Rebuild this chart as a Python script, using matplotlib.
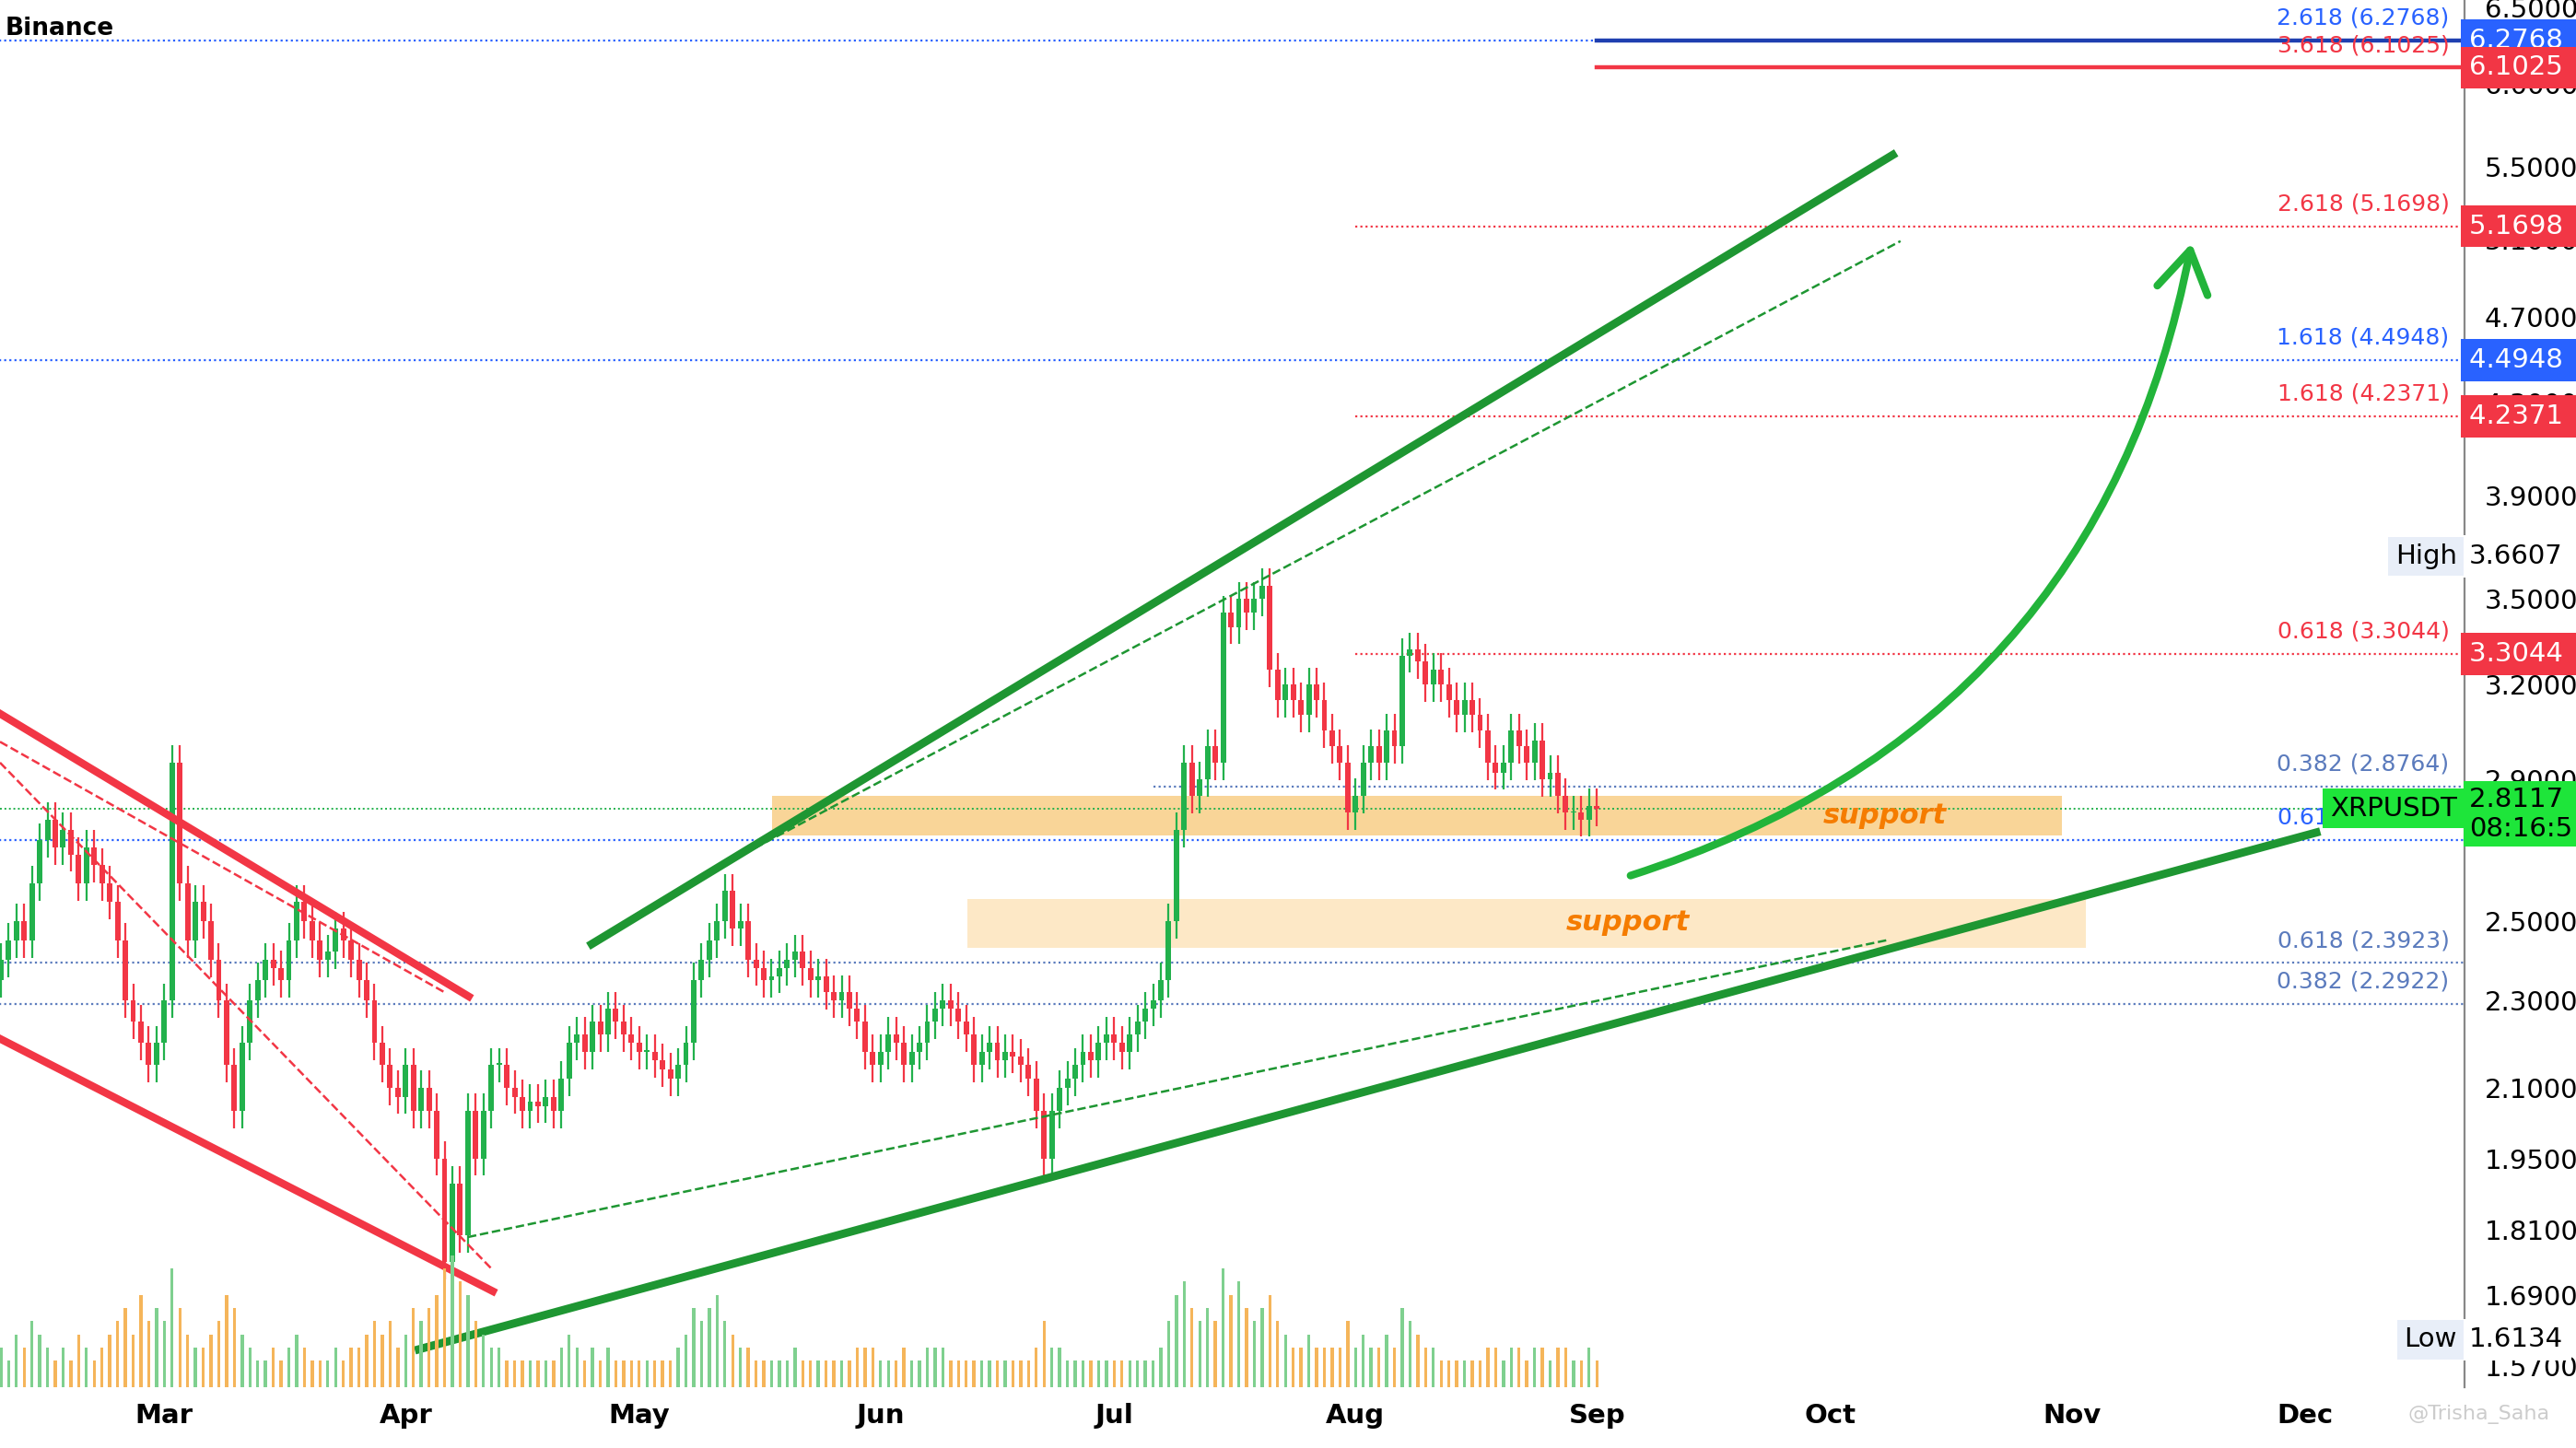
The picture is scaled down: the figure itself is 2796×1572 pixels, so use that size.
import matplotlib
matplotlib.use("Agg")
import matplotlib.pyplot as plt
from matplotlib.patches import FancyArrowPatch, Rectangle
from matplotlib.ticker import FixedLocator, NullLocator
import numpy as np

# day 0 = Mar 1; first candle = Feb 7 (day -22)
start_day = -22
closes = [
 2.35,2.40,2.45,2.50,2.45,2.60,2.72,
 2.78,2.70,2.75,2.68,2.60,2.70,2.65,
 2.60,2.55,2.45,2.30,2.25,2.20,2.15,
 2.20,2.30,2.95,2.60,2.45,2.55,2.50,
 2.40,2.30,2.15,2.05,2.20,2.30,2.35,
 2.40,2.38,2.35,2.45,2.55,2.50,2.45,
 2.40,2.42,2.48,2.45,2.40,2.35,2.30,
 2.20,2.15,2.10,2.08,2.15,2.05,2.10,
 2.05,1.95,1.75,1.90,1.80,2.05,1.95,
 2.05,2.15,2.15,2.10,2.08,2.05,2.07,
 2.06,2.08,2.05,2.12,2.20,2.22,2.18,
 2.25,2.22,2.28,2.25,2.22,2.20,2.18,
 2.18,2.16,2.14,2.12,2.15,2.20,2.35,
 2.40,2.45,2.50,2.58,2.48,2.50,2.40,
 2.38,2.35,2.36,2.38,2.40,2.42,2.38,
 2.35,2.36,2.32,2.30,2.32,2.28,2.25,
 2.18,2.15,2.18,2.22,2.20,2.15,2.18,
 2.20,2.25,2.28,2.30,2.28,2.25,2.22,
 2.15,2.18,2.20,2.16,2.18,2.17,2.15,
 2.12,2.05,1.95,2.05,2.10,2.12,2.15,
 2.18,2.16,2.20,2.22,2.20,2.18,2.22,
 2.25,2.28,2.30,2.35,2.50,2.75,2.95,
 2.85,2.90,3.00,2.95,3.45,3.40,3.50,
 3.45,3.50,3.55,3.25,3.15,3.20,3.15,
 3.10,3.20,3.15,3.05,3.00,2.95,2.80,
 2.85,2.95,3.00,2.95,3.05,3.00,3.30,
 3.32,3.28,3.20,3.25,3.20,3.15,3.10,
 3.15,3.10,3.05,2.95,2.92,2.95,3.05,
 3.00,2.95,3.02,2.90,2.92,2.85,2.80,
 2.80,2.78,2.82,2.81]
volumes = [
 2,3,2,4,3,5,4, 3,2,3,2,4,3,2, 3,4,5,6,4,7,5,
 6,5,9,6,4,3,3, 4,5,7,6,4,3,2, 2,3,2,3,4,3,2,
 2,2,3,2,3,3,4, 5,4,5,3,4,6,5, 6,7,9,10,8,7,5,
 4,3,3,2,2,2,2, 2,2,2,3,4,3,2, 3,2,3,2,2,2,2,
 2,2,2,2,3,4,6, 5,6,7,5,4,3,3, 2,2,2,2,2,3,2,
 2,2,2,2,2,2,3, 3,3,2,2,2,3,2, 2,3,3,3,2,2,2,
 2,2,2,2,2,2,2, 2,3,5,3,3,2,2, 2,2,2,2,2,2,2,
 2,2,2,3,5,7,8, 6,5,6,5,9,7,8, 6,5,6,7,5,4,3,
 3,4,3,3,3,3,5, 3,4,3,3,4,3,6, 5,4,3,3,2,2,2,
 2,2,2,3,3,2,3, 3,2,3,3,2,3,3, 2,2,3,2]
month_days = [0, 31, 61, 92, 122, 153, 184, 214, 245, 275]
month_labels = ["Mar","Apr","May","Jun","Jul","Aug","Sep","Oct","Nov","Dec"]
price_ticks = [6.5, 6.0, 5.5, 5.1, 4.7, 4.3, 3.9, 3.5, 3.2, 2.9, 2.5, 2.3, 2.1, 1.95, 1.81, 1.69, 1.57]

# fib levels: (price, colour, label, x_start)
fib_levels = [
 (6.2768, "#2962ff", "2.618 (6.2768)", -22),
 (6.1025, "#f23645", "3.618 (6.1025)", 184),
 (5.1698, "#f23645", "2.618 (5.1698)", 153),
 (4.4948, "#2962ff", "1.618 (4.4948)", -22),
 (4.2371, "#f23645", "1.618 (4.2371)", 153),
 (3.3044, "#f23645", "0.618 (3.3044)", 153),
 (2.8764, "#5b7bbd", "0.382 (2.8764)", 127),
 (2.7200, "#2962ff", "0.618 (2.7200)", -22),
 (2.3923, "#5b7bbd", "0.618 (2.3923)", -22),
 (2.2922, "#5b7bbd", "0.382 (2.2922)", -22),
]
tags = [(6.2768, "#2962ff", "6.2768"), (6.1025, "#f23645", "6.1025"),
        (5.1698, "#f23645", "5.1698"), (4.4948, "#2962ff", "4.4948"),
        (4.2371, "#f23645", "4.2371"), (3.3044, "#f23645", "3.3044")]
last_price = 2.8117
high_price, low_price = 3.6607, 1.6134

GREEN, RED = "#22b14c", "#f23645"
fig = plt.figure(figsize=(13.98, 7.86), dpi=200)
ax = fig.add_axes([0, 0.042, 0.9566, 0.958])
ax.set_yscale("log")
ax.set_ylim(1.535, 6.55)
ax.set_xlim(-21.1, 295.4)

days = np.arange(start_day, start_day + len(closes))
opens = [closes[0] * 0.99] + closes[:-1]
for d, o, c in zip(days, opens, closes):
    col = GREEN if c >= o else RED
    hi, lo = max(o, c) * 1.018, min(o, c) * 0.982
    ax.vlines(d, lo, hi, color=col, lw=0.8, zorder=3)
    ax.add_patch(Rectangle((d - 0.35, min(o, c)), 0.7, max(abs(c - o), 0.004), color=col, zorder=4, lw=0))

vax = ax.twinx()
vax.set_ylim(0, max(volumes) * 10.5)
vcols = ["#7fd08f" if c >= o else "#f5b55a" for o, c in zip(opens, closes)]
vax.bar(days, volumes, width=0.4, color=vcols, zorder=1)
vax.axis("off")

# support boxes
ax.add_patch(Rectangle((78.1, 2.733), 243.7 - 78.1, 2.848 - 2.733, color="#f7c46c", alpha=0.7, lw=0, zorder=2))
ax.add_patch(Rectangle((103.2, 2.43), 246.8 - 103.2, 2.559 - 2.43, color="#fde3b8", alpha=0.8, lw=0, zorder=2))
ax.text(221, 2.79, "support", color="#f57c00", fontsize=11, fontweight="bold", style="italic", ha="center", va="center", zorder=6)
ax.text(188, 2.495, "support", color="#f57c00", fontsize=11, fontweight="bold", style="italic", ha="center", va="center", zorder=6)

for p, col, lab, xs in fib_levels:
    ax.plot([xs, 295.4], [p, p], color=col, lw=0.8, ls=(0, (1, 1.5)), zorder=2)
    ax.text(293.5, p * 1.012, lab, color=col, fontsize=9, ha="right", va="bottom", zorder=6)
ax.plot([184, 295.4], [6.2768, 6.2768], color="#1f3fb0", lw=1.6, zorder=3)
ax.plot([184, 295.4], [6.1025, 6.1025], color=RED, lw=1.6, zorder=3)
ax.axhline(last_price, color=GREEN, lw=0.7, ls=(0, (1, 1.5)), zorder=2)

# trend lines
ax.plot([54.9, 222], [2.44, 5.57], color="#1e9632", lw=3.2, zorder=5)
ax.plot([71.7, 223], [2.65, 5.09], color="#1e9632", lw=0.9, ls="--", zorder=5)
ax.plot([32.7, 276.4], [1.597, 2.742], color="#1e9632", lw=3.2, zorder=5)
ax.plot([39, 221.5], [1.796, 2.451], color="#1e9632", lw=0.9, ls="--", zorder=5)
ax.plot([-21.1, 39.1], [3.105, 2.31], color=RED, lw=3, zorder=5)
ax.plot([-21.1, 42.2], [2.21, 1.697], color=RED, lw=3, zorder=5)
ax.plot([-21.1, 36], [3.015, 2.32], color=RED, lw=0.9, ls="--", zorder=5)
ax.plot([-21.1, 42.2], [2.95, 1.735], color=RED, lw=0.9, ls="--", zorder=5)

arr = FancyArrowPatch((187.7, 2.617), (260.5, 5.106), connectionstyle="arc3,rad=0.3",
                      arrowstyle="->,head_length=8,head_width=5", color="#22b43a", lw=3, zorder=6,
                      mutation_scale=2)
ax.add_patch(arr)

# axes styling
for s in ["top", "left", "bottom"]:
    ax.spines[s].set_visible(False)
ax.spines["right"].set_color("#888888")
ax.yaxis.tick_right()
ax.yaxis.set_major_locator(FixedLocator(price_ticks))
ax.yaxis.set_minor_locator(NullLocator())
ax.set_yticklabels([f"{p:.4f}" for p in price_ticks], fontsize=10.5)
ax.tick_params(axis="y", length=0, pad=8)
ax.set_xticks(month_days)
ax.set_xticklabels(month_labels, fontsize=10.5, fontweight="bold")
ax.tick_params(axis="x", length=0, pad=6)

def tag(p, fc, txt, tc="white"):
    ax.text(1.002, p, txt, transform=ax.get_yaxis_transform(), fontsize=10.5, color=tc, va="center", ha="left",
            bbox=dict(boxstyle="square,pad=0.3", fc=fc, ec="none"), zorder=10, clip_on=False)
for p, c, t in tags:
    tag(p, c, t + "  ")
tag(high_price, "white", "3.6607", "black")
tag(low_price, "white", "1.6134", "black")
ax.text(0.997, high_price, "High", transform=ax.get_yaxis_transform(), fontsize=10.5, ha="right", va="center",
        bbox=dict(boxstyle="square,pad=0.25", fc="#e8eef8", ec="none"), zorder=10)
ax.text(0.997, low_price, "Low", transform=ax.get_yaxis_transform(), fontsize=10.5, ha="right", va="center",
        bbox=dict(boxstyle="square,pad=0.25", fc="#e8eef8", ec="none"), zorder=10)
ax.text(1.002, 2.795, "2.8117  \n08:16:5", transform=ax.get_yaxis_transform(), fontsize=10.5, color="black",
        va="center", ha="left", linespacing=1.15,
        bbox=dict(boxstyle="square,pad=0.2", fc="#1ee53a", ec="none"), zorder=10, clip_on=False)
ax.text(0.997, last_price, "XRPUSDT", transform=ax.get_yaxis_transform(), fontsize=10.5, ha="right", va="center",
        bbox=dict(boxstyle="square,pad=0.25", fc="#1ee53a", ec="none"), zorder=10)
fig.text(0.002, 0.98, "Binance", fontsize=9.5, fontweight="bold", va="center")
fig.text(0.99, 0.02, "@Trisha_Saha", fontsize=8, color="#cccccc", ha="right")
fig.savefig("out.png", dpi=200)
